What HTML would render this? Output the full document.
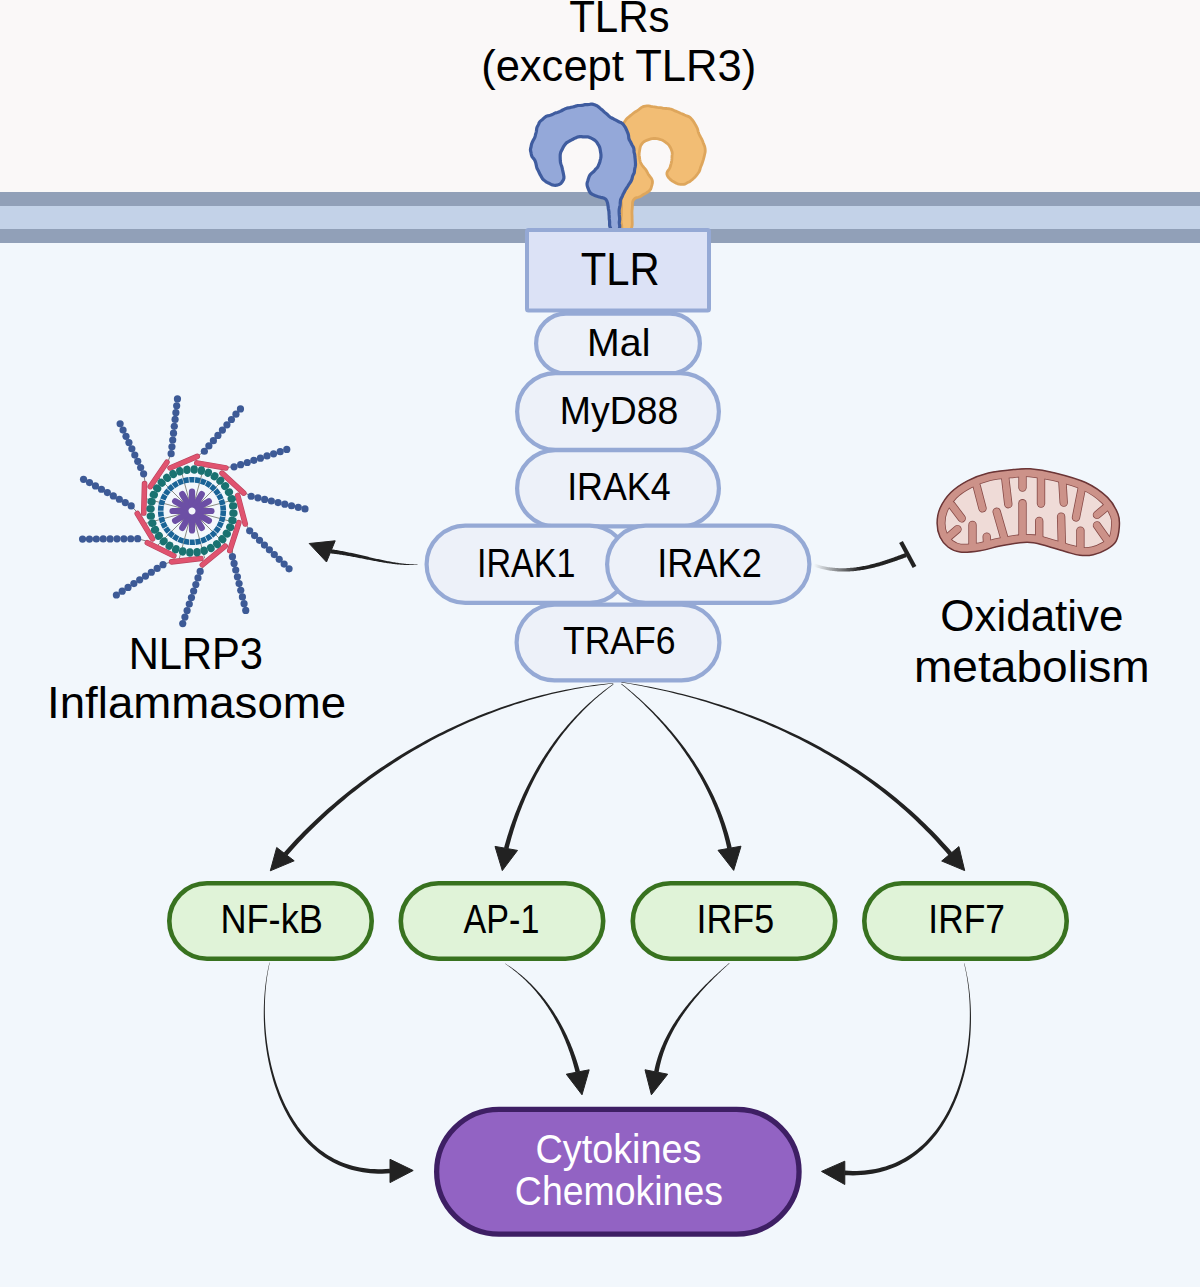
<!DOCTYPE html>
<html><head><meta charset="utf-8"><style>html,body{margin:0;padding:0;background:#f2f7fc;}svg{display:block;}</style></head><body>
<svg width="1200" height="1287" viewBox="0 0 1200 1287" style="font-family:&quot;Liberation Sans&quot;,sans-serif">
<defs><linearGradient id="inh" gradientUnits="userSpaceOnUse" x1="814" y1="565" x2="860" y2="569"><stop offset="0" stop-color="#222" stop-opacity="0"/><stop offset="1" stop-color="#222" stop-opacity="1"/></linearGradient></defs>
<rect width="1200" height="1287" fill="#f2f7fc"/>
<rect width="1200" height="192" fill="#faf8f8"/>
<rect y="192" width="1200" height="14" fill="#91a0b8"/>
<rect y="206" width="1200" height="23" fill="#c3d2e8"/>
<rect y="229" width="1200" height="14" fill="#91a0b8"/>
<path d="M624.26 122.22 L625.10 120.97 L625.95 119.72 L626.91 118.55 L628.04 117.55 L629.22 116.62 L630.38 115.67 L631.54 114.71 L632.71 113.76 L633.87 112.81 L635.09 111.94 L636.40 111.18 L637.70 110.41 L638.90 109.53 L640.04 108.55 L641.23 107.62 L642.54 106.86 L643.97 106.34 L645.46 106.06 L646.97 105.86 L648.48 105.87 L649.97 106.19 L651.43 106.55 L652.92 106.72 L654.43 106.83 L655.90 107.08 L657.37 107.38 L658.86 107.53 L660.36 107.66 L661.84 107.93 L663.31 108.28 L664.79 108.48 L666.31 108.48 L667.82 108.56 L669.33 108.75 L670.82 109.04 L672.25 109.56 L673.61 110.24 L674.96 110.92 L676.37 111.43 L677.78 111.96 L679.13 112.61 L680.52 113.19 L681.92 113.73 L683.27 114.38 L684.61 115.04 L685.99 115.60 L687.41 116.11 L688.82 116.67 L690.08 117.53 L691.16 118.59 L692.14 119.70 L693.02 120.86 L693.80 122.11 L694.60 123.36 L695.40 124.63 L696.13 125.96 L696.82 127.30 L697.43 128.67 L697.86 130.11 L698.17 131.60 L698.61 133.05 L699.22 134.42 L699.89 135.77 L700.63 137.08 L701.34 138.40 L702.02 139.74 L702.64 141.11 L703.12 142.54 L703.63 143.95 L704.25 145.31 L704.75 146.72 L705.05 148.18 L705.21 149.64 L705.26 151.10 L705.08 152.55 L704.73 154.00 L704.41 155.47 L704.09 156.93 L703.69 158.38 L703.30 159.83 L702.83 161.26 L702.35 162.68 L701.89 164.11 L701.32 165.49 L700.73 166.87 L700.27 168.30 L699.89 169.79 L699.37 171.22 L698.58 172.51 L697.69 173.74 L696.81 174.98 L695.87 176.16 L694.84 177.26 L693.76 178.31 L692.62 179.29 L691.45 180.24 L690.28 181.17 L688.97 181.92 L687.62 182.56 L686.35 183.33 L685.05 184.09 L683.59 184.46 L682.10 184.44 L680.63 184.28 L679.15 184.08 L677.68 183.77 L676.29 183.20 L674.98 182.46 L673.67 181.74 L672.36 181.00 L671.13 180.13 L670.01 179.13 L668.97 178.04 L668.03 176.87 L667.32 175.57 L666.89 174.18 L666.92 172.74 L667.53 171.40 L668.41 170.19 L669.26 168.95 L669.96 167.63 L670.43 166.22 L670.77 164.78 L671.19 163.35 L671.56 161.89 L671.79 160.41 L671.91 158.91 L671.95 157.41 L672.02 155.92 L672.19 154.42 L672.25 152.89 L671.95 151.40 L671.43 149.98 L670.87 148.58 L670.20 147.24 L669.46 145.94 L668.60 144.72 L667.49 143.72 L666.29 142.85 L665.11 141.97 L663.89 141.09 L662.60 140.33 L661.21 139.74 L659.76 139.33 L658.31 138.94 L656.82 138.66 L655.32 138.51 L653.81 138.49 L652.32 138.67 L650.84 138.98 L649.39 139.35 L647.97 139.83 L646.57 140.35 L645.19 140.94 L643.92 141.73 L642.82 142.73 L641.85 143.87 L641.02 145.12 L640.42 146.49 L640.06 147.95 L639.79 149.42 L639.58 150.90 L639.34 152.39 L639.14 153.89 L639.26 155.39 L639.48 156.88 L639.61 158.37 L639.86 159.85 L640.16 161.32 L640.61 162.76 L641.33 164.08 L642.16 165.32 L643.04 166.52 L644.01 167.66 L645.03 168.76 L645.95 169.95 L646.73 171.25 L647.43 172.59 L648.13 173.92 L648.92 175.19 L649.84 176.38 L650.78 177.57 L651.61 178.84 L652.25 180.25 L652.49 181.79 L652.37 183.33 L652.03 184.81 L651.64 186.26 L651.22 187.71 L650.64 189.12 L649.77 190.38 L648.62 191.38 L647.37 192.25 L646.14 193.10 L644.85 193.86 L643.50 194.51 L642.22 195.29 L641.01 196.18 L639.66 196.84 L638.21 197.24 L636.75 197.59 L635.34 198.13 L634.16 199.08 L633.24 200.33 L632.69 201.78 L632.49 203.30 L632.44 204.81 L632.38 206.32 L632.30 207.81 L632.14 209.31 L631.99 210.81 L631.95 212.31 L631.97 213.81 L632.06 215.31 L632.11 216.81 L632.10 218.31 L632.14 219.81 L632.20 221.31 L632.25 222.81 L632.23 224.31 L632.09 225.81 L631.77 227.28 L631.25 228.67 L630.52 229.92 L629.62 231.10 L628.50 232.14 L627.06 232.67 L625.55 232.71 L624.17 232.21 L623.11 231.24 L622.40 229.98 L621.95 228.57 L621.82 227.09 L621.78 225.60 L621.53 224.12 L621.25 222.64 L621.08 221.15 L620.96 219.65 L620.93 218.15 L621.12 216.65 L621.38 215.15 L621.43 213.65 L621.39 212.15 L621.46 210.66 L621.54 209.16 L621.59 207.66 L621.64 206.16 L621.61 204.66 L621.56 203.16 L621.44 201.65 L621.27 200.14 L621.32 198.64 L621.47 197.15 L621.55 195.65 L621.62 194.15 L621.75 192.66 L622.04 191.17 L622.38 189.70 L622.50 188.21 L622.57 186.71 L622.75 185.22 L622.94 183.74 L623.19 182.26 L623.47 180.79 L623.67 179.30 L623.81 177.80 L624.06 176.32 L624.30 174.84 L624.53 173.36 L624.84 171.89 L625.16 170.42 L625.48 168.95 L625.71 167.46 L625.83 165.96 L625.90 164.46 L625.89 162.96 L625.80 161.45 L625.84 159.96 L625.88 158.46 L625.90 156.96 L625.84 155.46 L625.73 153.96 L625.65 152.46 L625.68 150.95 L625.53 149.45 L625.13 147.99 L624.80 146.52 L624.64 145.02 L624.52 143.52 L624.20 142.05 L623.68 140.62 L623.24 139.17 L622.91 137.71 L622.62 136.24 L622.42 134.75 L622.32 133.24 L622.26 131.73 L622.25 130.23 L622.09 128.74 L621.80 127.25 L621.69 125.74 L622.04 124.25 L623.19 123.28Z" fill="#f2bd74" stroke="#dea65c" stroke-width="2.8" stroke-linejoin="round"/>
<path d="M589.02 104.53 L590.49 104.20 L591.99 104.17 L593.47 104.44 L594.91 104.86 L596.29 105.48 L597.62 106.21 L598.84 107.09 L599.91 108.17 L601.04 109.16 L602.26 110.05 L603.37 111.06 L604.43 112.12 L605.57 113.10 L606.76 114.02 L607.88 115.01 L608.92 116.10 L610.06 117.08 L611.37 117.80 L612.71 118.48 L614.02 119.23 L615.39 119.84 L616.72 120.49 L617.97 121.30 L619.35 121.92 L620.78 122.49 L622.09 123.27 L623.22 124.32 L624.12 125.58 L624.97 126.83 L625.72 128.14 L626.33 129.52 L626.95 130.90 L627.53 132.29 L628.09 133.70 L628.49 135.14 L628.66 136.65 L628.78 138.21 L629.24 139.66 L630.00 140.97 L630.73 142.29 L631.38 143.63 L632.03 144.99 L632.80 146.30 L633.54 147.63 L633.93 149.10 L633.95 150.67 L634.05 152.19 L634.47 153.62 L634.79 155.07 L634.85 156.56 L635.03 158.04 L635.22 159.53 L635.33 161.03 L635.43 162.53 L635.52 164.04 L635.46 165.54 L635.17 167.03 L634.82 168.50 L634.56 169.97 L634.46 171.49 L634.18 172.98 L633.48 174.34 L632.76 175.67 L632.37 177.13 L632.07 178.63 L631.58 180.06 L630.90 181.41 L630.13 182.71 L629.27 183.96 L628.39 185.19 L627.64 186.50 L626.86 187.78 L625.98 188.99 L625.21 190.27 L624.57 191.63 L623.83 192.95 L623.11 194.26 L622.56 195.67 L621.97 197.05 L621.21 198.35 L620.59 199.74 L620.36 201.23 L620.30 202.74 L620.18 204.24 L620.00 205.72 L619.70 207.20 L619.33 208.69 L619.13 210.18 L619.12 211.68 L619.17 213.20 L619.26 214.71 L619.43 216.21 L619.60 217.70 L619.67 219.20 L619.48 220.71 L619.27 222.21 L619.39 223.70 L619.66 225.20 L619.74 226.72 L619.46 228.23 L618.68 229.53 L617.52 230.50 L616.11 231.08 L614.59 231.13 L613.13 230.74 L611.89 229.99 L610.93 228.99 L610.31 227.75 L609.82 226.36 L609.57 224.88 L609.60 223.38 L609.64 221.88 L609.47 220.38 L609.26 218.88 L609.23 217.38 L609.19 215.89 L609.07 214.39 L609.01 212.89 L608.92 211.39 L608.60 209.92 L608.31 208.44 L608.19 206.94 L607.99 205.45 L607.72 203.97 L607.39 202.49 L606.86 201.06 L606.09 199.72 L604.97 198.63 L603.56 198.00 L602.09 197.65 L600.63 197.32 L599.18 196.93 L597.72 196.52 L596.27 196.06 L594.87 195.51 L593.51 194.85 L592.12 194.21 L590.81 193.35 L589.79 192.14 L589.07 190.78 L588.49 189.38 L587.91 187.98 L587.40 186.54 L587.09 185.04 L587.05 183.48 L587.43 181.97 L587.88 180.52 L588.28 179.07 L588.75 177.63 L589.34 176.22 L590.06 174.87 L591.07 173.71 L592.27 172.76 L593.44 171.82 L594.44 170.70 L595.37 169.50 L596.46 168.46 L597.53 167.36 L598.25 166.01 L598.76 164.57 L599.40 163.20 L599.91 161.78 L600.17 160.29 L600.55 158.83 L600.89 157.36 L600.98 155.86 L600.93 154.35 L600.72 152.87 L600.47 151.42 L600.24 149.96 L599.97 148.48 L599.54 147.04 L598.90 145.69 L598.09 144.42 L597.34 143.12 L596.54 141.83 L595.45 140.78 L594.23 139.90 L593.00 139.06 L591.68 138.34 L590.31 137.72 L588.90 137.15 L587.43 136.81 L585.90 136.81 L584.39 136.95 L582.92 136.83 L581.43 136.62 L579.92 136.61 L578.42 136.85 L576.99 137.33 L575.59 137.89 L574.21 138.48 L572.92 139.26 L571.60 139.95 L570.22 140.54 L568.94 141.31 L567.64 142.07 L566.39 142.93 L565.39 144.07 L564.49 145.26 L563.60 146.45 L562.95 147.77 L562.35 149.12 L561.60 150.41 L560.92 151.77 L560.46 153.21 L560.23 154.70 L560.18 156.21 L560.20 157.71 L560.25 159.19 L560.29 160.68 L560.44 162.17 L560.79 163.63 L561.25 165.07 L561.75 166.48 L562.14 167.94 L562.43 169.41 L562.77 170.87 L563.11 172.34 L563.40 173.80 L563.67 175.24 L563.92 176.70 L563.89 178.21 L563.47 179.67 L562.70 180.99 L561.82 182.21 L560.86 183.36 L559.63 184.22 L558.24 184.78 L556.81 185.20 L555.33 185.36 L553.84 185.22 L552.40 184.91 L551.03 184.37 L549.74 183.66 L548.41 183.00 L547.04 182.37 L545.76 181.58 L544.59 180.63 L543.42 179.68 L542.38 178.58 L541.65 177.24 L540.95 175.91 L540.17 174.63 L539.47 173.31 L538.89 171.92 L538.21 170.58 L537.47 169.26 L536.88 167.86 L536.51 166.40 L536.20 164.92 L535.87 163.46 L535.48 162.00 L534.96 160.58 L534.19 159.28 L533.20 158.13 L532.27 156.95 L531.62 155.58 L531.28 154.12 L531.03 152.67 L530.65 151.23 L530.42 149.74 L530.67 148.25 L531.07 146.80 L531.30 145.33 L531.64 143.87 L532.19 142.47 L532.83 141.11 L533.53 139.78 L534.25 138.46 L534.90 137.09 L535.31 135.63 L535.63 134.15 L536.06 132.71 L536.41 131.25 L536.57 129.74 L536.76 128.22 L537.24 126.77 L538.01 125.45 L538.64 124.07 L539.22 122.63 L540.12 121.39 L541.32 120.39 L542.51 119.44 L543.61 118.42 L544.71 117.40 L545.93 116.47 L547.33 115.87 L548.83 115.58 L550.29 115.21 L551.71 114.71 L553.08 114.09 L554.41 113.37 L555.81 112.83 L557.30 112.50 L558.73 112.04 L560.09 111.40 L561.43 110.73 L562.76 110.00 L564.11 109.33 L565.46 108.67 L566.87 108.13 L568.36 107.86 L569.85 107.62 L571.30 107.26 L572.77 106.96 L574.24 106.63 L575.67 106.10 L577.12 105.67 L578.61 105.50 L580.13 105.49 L581.65 105.45 L583.11 105.12 L584.55 104.67 L586.06 104.57 L587.58 104.70Z" fill="#94a8d9" stroke="#3f5c9f" stroke-width="3.2" stroke-linejoin="round"/>
<rect x="527" y="230" width="182" height="80.5" rx="1.5" fill="#dce2f6" stroke="#95a9d5" stroke-width="4"/>
<rect x="536.10" y="313.60" width="163.80" height="59.80" rx="29.90" fill="#edf1f9" stroke="#95a9d5" stroke-width="4.20"/>
<rect x="517.10" y="373.10" width="201.80" height="76.80" rx="38.40" fill="#edf1f9" stroke="#95a9d5" stroke-width="4.20"/>
<rect x="517.10" y="450.10" width="201.80" height="76.30" rx="38.15" fill="#edf1f9" stroke="#95a9d5" stroke-width="4.20"/>
<rect x="426.60" y="525.60" width="201.80" height="77.30" rx="38.65" fill="#edf1f9" stroke="#95a9d5" stroke-width="4.20"/>
<rect x="607.10" y="525.60" width="202.30" height="77.30" rx="38.65" fill="#edf1f9" stroke="#95a9d5" stroke-width="4.20"/>
<rect x="516.60" y="604.60" width="202.80" height="75.80" rx="37.90" fill="#edf1f9" stroke="#95a9d5" stroke-width="4.20"/>
<rect x="169.30" y="883.30" width="202.40" height="75.40" rx="37.70" fill="#e0f3d8" stroke="#38721f" stroke-width="4.60"/>
<rect x="400.80" y="883.30" width="202.40" height="75.40" rx="37.70" fill="#e0f3d8" stroke="#38721f" stroke-width="4.60"/>
<rect x="632.80" y="883.30" width="202.40" height="75.40" rx="37.70" fill="#e0f3d8" stroke="#38721f" stroke-width="4.60"/>
<rect x="864.30" y="883.30" width="202.40" height="75.40" rx="37.70" fill="#e0f3d8" stroke="#38721f" stroke-width="4.60"/>
<rect x="436.65" y="1109.35" width="362.40" height="124.70" rx="62.35" fill="#9263c3" stroke="#3e1f64" stroke-width="5.30"/>
<path d="M613.27 683.00 L608.49 683.45 L603.71 683.95 L598.93 684.51 L594.17 685.11 L589.40 685.77 L584.65 686.48 L579.89 687.24 L575.15 688.05 L570.41 688.91 L565.69 689.82 L560.97 690.78 L556.26 691.79 L551.55 692.85 L546.86 693.95 L542.18 695.11 L537.51 696.31 L532.85 697.56 L528.20 698.85 L523.56 700.20 L518.94 701.59 L514.32 703.02 L509.73 704.50 L505.14 706.03 L500.57 707.60 L496.01 709.22 L491.47 710.88 L486.94 712.58 L482.43 714.33 L477.94 716.12 L473.46 717.95 L469.00 719.83 L464.56 721.74 L460.14 723.70 L455.73 725.70 L451.34 727.74 L446.98 729.83 L442.63 731.95 L438.30 734.11 L433.99 736.31 L429.71 738.55 L425.44 740.83 L421.20 743.15 L416.98 745.50 L412.78 747.90 L408.61 750.33 L404.46 752.80 L400.34 755.30 L396.24 757.84 L392.16 760.42 L388.11 763.03 L384.08 765.68 L380.09 768.36 L376.12 771.07 L372.17 773.82 L368.26 776.61 L364.37 779.43 L360.51 782.28 L356.68 785.16 L352.88 788.08 L349.11 791.02 L345.37 794.00 L341.66 797.01 L337.98 800.06 L334.33 803.13 L330.71 806.23 L327.13 809.36 L323.58 812.52 L320.07 815.71 L316.58 818.93 L313.14 822.18 L309.72 825.46 L306.35 828.76 L303.00 832.09 L299.70 835.45 L296.43 838.84 L293.19 842.25 L290.00 845.68 L286.84 849.15 L283.73 852.63 L287.17 855.67 L290.23 852.18 L293.32 848.71 L296.45 845.27 L299.62 841.86 L302.82 838.47 L306.07 835.11 L309.34 831.77 L312.66 828.46 L316.01 825.17 L319.39 821.91 L322.81 818.68 L326.27 815.48 L329.76 812.30 L333.28 809.16 L336.83 806.04 L340.42 802.95 L344.04 799.89 L347.69 796.87 L351.37 793.87 L355.09 790.90 L358.83 787.96 L362.61 785.06 L366.41 782.19 L370.24 779.35 L374.11 776.54 L378.00 773.77 L381.91 771.02 L385.86 768.32 L389.83 765.64 L393.83 763.00 L397.86 760.40 L401.91 757.83 L405.98 755.30 L410.08 752.80 L414.21 750.34 L418.36 747.92 L422.53 745.53 L426.73 743.18 L430.95 740.87 L435.19 738.59 L439.45 736.36 L443.73 734.16 L448.04 732.00 L452.37 729.89 L456.71 727.81 L461.08 725.77 L465.46 723.77 L469.86 721.82 L474.29 719.90 L478.72 718.03 L483.18 716.20 L487.66 714.42 L492.15 712.67 L496.65 710.97 L501.18 709.31 L505.71 707.70 L510.27 706.13 L514.83 704.61 L519.42 703.13 L524.01 701.69 L528.62 700.31 L533.24 698.97 L537.87 697.67 L542.52 696.42 L547.17 695.22 L551.84 694.07 L556.52 692.97 L561.21 691.91 L565.91 690.90 L570.61 689.94 L575.33 689.04 L580.06 688.18 L584.79 687.37 L589.53 686.61 L594.28 685.91 L599.03 685.25 L603.79 684.65 L608.56 684.10 L613.33 683.60Z" fill="#222"/>
<path d="M270.3 870.8 L276.7 847.5 L294.2 860.8 Z" fill="#222" stroke="#222" stroke-width="1" stroke-linejoin="round"/>
<path d="M613.12 683.96 L611.03 685.45 L608.95 686.96 L606.89 688.49 L604.85 690.04 L602.83 691.60 L600.83 693.19 L598.84 694.80 L596.88 696.43 L594.93 698.07 L593.00 699.73 L591.09 701.41 L589.19 703.11 L587.32 704.83 L585.46 706.56 L583.63 708.32 L581.81 710.09 L580.01 711.87 L578.22 713.68 L576.46 715.50 L574.71 717.33 L572.99 719.19 L571.28 721.05 L569.59 722.94 L567.91 724.84 L566.26 726.76 L564.62 728.69 L563.01 730.63 L561.41 732.60 L559.83 734.57 L558.27 736.56 L556.72 738.57 L555.20 740.59 L553.69 742.62 L552.20 744.67 L550.73 746.73 L549.28 748.80 L547.84 750.89 L546.43 752.99 L545.03 755.10 L543.65 757.23 L542.29 759.36 L540.95 761.51 L539.62 763.68 L538.32 765.85 L537.03 768.03 L535.76 770.23 L534.51 772.44 L533.27 774.66 L532.06 776.89 L530.86 779.13 L529.68 781.38 L528.52 783.64 L527.38 785.91 L526.25 788.19 L525.15 790.48 L524.06 792.78 L522.99 795.09 L521.94 797.41 L520.91 799.73 L519.89 802.07 L518.89 804.41 L517.91 806.77 L516.95 809.13 L516.01 811.49 L515.08 813.87 L514.18 816.25 L513.29 818.64 L512.42 821.04 L511.56 823.45 L510.73 825.86 L509.91 828.27 L509.11 830.70 L508.33 833.13 L507.57 835.56 L506.82 838.00 L506.10 840.45 L505.39 842.90 L504.70 845.36 L504.03 847.82 L508.47 848.98 L509.09 846.53 L509.73 844.09 L510.38 841.66 L511.05 839.23 L511.73 836.81 L512.44 834.39 L513.16 831.97 L513.90 829.56 L514.66 827.16 L515.44 824.76 L516.23 822.37 L517.05 819.98 L517.88 817.60 L518.73 815.23 L519.60 812.87 L520.48 810.51 L521.38 808.16 L522.31 805.81 L523.25 803.47 L524.20 801.15 L525.18 798.82 L526.17 796.51 L527.19 794.21 L528.22 791.91 L529.27 789.62 L530.33 787.34 L531.42 785.08 L532.52 782.82 L533.64 780.56 L534.78 778.32 L535.94 776.09 L537.12 773.87 L538.31 771.66 L539.53 769.46 L540.76 767.27 L542.01 765.09 L543.28 762.93 L544.57 760.77 L545.87 758.62 L547.20 756.49 L548.54 754.37 L549.90 752.26 L551.28 750.16 L552.68 748.08 L554.10 746.01 L555.53 743.95 L556.99 741.90 L558.46 739.87 L559.95 737.85 L561.46 735.84 L562.99 733.85 L564.54 731.87 L566.11 729.90 L567.69 727.95 L569.29 726.02 L570.92 724.10 L572.56 722.19 L574.22 720.30 L575.90 718.43 L577.60 716.57 L579.31 714.72 L581.05 712.89 L582.80 711.08 L584.58 709.29 L586.37 707.51 L588.18 705.74 L590.01 704.00 L591.86 702.27 L593.73 700.56 L595.62 698.87 L597.53 697.19 L599.45 695.53 L601.40 693.89 L603.36 692.27 L605.35 690.67 L607.35 689.08 L609.37 687.52 L611.41 685.97 L613.48 684.44Z" fill="#222"/>
<path d="M502.3 870.6 L495.0 846.4 L517.5 850.4 Z" fill="#222" stroke="#222" stroke-width="1" stroke-linejoin="round"/>
<path d="M621.21 684.13 L623.16 685.74 L625.10 687.37 L627.03 689.00 L628.94 690.65 L630.85 692.32 L632.75 694.00 L634.63 695.69 L636.50 697.40 L638.36 699.12 L640.21 700.86 L642.05 702.60 L643.87 704.37 L645.68 706.14 L647.48 707.93 L649.27 709.73 L651.04 711.55 L652.80 713.37 L654.55 715.22 L656.28 717.07 L658.00 718.94 L659.70 720.82 L661.39 722.71 L663.07 724.61 L664.73 726.53 L666.37 728.46 L668.00 730.40 L669.62 732.36 L671.22 734.32 L672.80 736.30 L674.37 738.29 L675.92 740.30 L677.45 742.31 L678.97 744.34 L680.47 746.37 L681.95 748.42 L683.42 750.48 L684.87 752.56 L686.30 754.64 L687.71 756.73 L689.11 758.84 L690.49 760.96 L691.85 763.09 L693.19 765.22 L694.51 767.37 L695.81 769.53 L697.09 771.71 L698.35 773.89 L699.60 776.08 L700.82 778.28 L702.02 780.49 L703.21 782.72 L704.37 784.95 L705.51 787.19 L706.63 789.44 L707.73 791.71 L708.81 793.98 L709.87 796.26 L710.90 798.55 L711.91 800.85 L712.90 803.16 L713.87 805.48 L714.82 807.81 L715.74 810.15 L716.64 812.50 L717.52 814.86 L718.37 817.22 L719.20 819.60 L720.01 821.98 L720.79 824.37 L721.55 826.77 L722.28 829.18 L722.99 831.60 L723.68 834.02 L724.34 836.46 L724.97 838.90 L725.58 841.35 L726.16 843.80 L726.72 846.27 L727.26 848.76 L731.74 847.74 L731.15 845.25 L730.54 842.74 L729.89 840.25 L729.22 837.77 L728.53 835.30 L727.81 832.83 L727.06 830.38 L726.29 827.94 L725.49 825.50 L724.67 823.08 L723.83 820.66 L722.96 818.26 L722.07 815.86 L721.16 813.48 L720.22 811.11 L719.26 808.74 L718.27 806.39 L717.27 804.05 L716.24 801.71 L715.19 799.39 L714.12 797.08 L713.02 794.78 L711.90 792.49 L710.77 790.21 L709.61 787.94 L708.43 785.69 L707.23 783.44 L706.01 781.21 L704.77 778.98 L703.51 776.77 L702.22 774.57 L700.92 772.38 L699.60 770.20 L698.27 768.03 L696.91 765.88 L695.53 763.74 L694.14 761.61 L692.72 759.49 L691.29 757.38 L689.84 755.28 L688.37 753.20 L686.89 751.13 L685.39 749.07 L683.87 747.02 L682.33 744.99 L680.78 742.96 L679.21 740.95 L677.63 738.96 L676.02 736.97 L674.41 735.00 L672.77 733.04 L671.13 731.10 L669.46 729.16 L667.79 727.24 L666.09 725.33 L664.39 723.44 L662.66 721.56 L660.93 719.69 L659.18 717.84 L657.41 716.00 L655.64 714.17 L653.85 712.36 L652.04 710.56 L650.23 708.77 L648.40 707.00 L646.56 705.24 L644.71 703.49 L642.84 701.76 L640.96 700.04 L639.07 698.34 L637.17 696.65 L635.26 694.98 L633.34 693.32 L631.41 691.67 L629.46 690.04 L627.51 688.43 L625.55 686.82 L623.57 685.24 L621.59 683.67Z" fill="#222"/>
<path d="M733.7 870.4 L718.0 850.3 L741.0 846.2 Z" fill="#222" stroke="#222" stroke-width="1" stroke-linejoin="round"/>
<path d="M621.35 682.50 L626.08 683.28 L630.80 684.10 L635.51 684.95 L640.23 685.83 L644.93 686.75 L649.63 687.70 L654.32 688.69 L659.01 689.71 L663.69 690.76 L668.36 691.85 L673.02 692.98 L677.67 694.14 L682.32 695.33 L686.95 696.56 L691.58 697.82 L696.20 699.12 L700.80 700.46 L705.40 701.82 L709.98 703.23 L714.55 704.67 L719.11 706.14 L723.66 707.65 L728.19 709.20 L732.71 710.78 L737.22 712.40 L741.71 714.05 L746.18 715.74 L750.65 717.47 L755.09 719.23 L759.52 721.03 L763.94 722.86 L768.34 724.73 L772.72 726.64 L777.08 728.58 L781.42 730.56 L785.75 732.58 L790.06 734.63 L794.34 736.73 L798.61 738.85 L802.86 741.02 L807.09 743.22 L811.30 745.46 L815.48 747.74 L819.65 750.05 L823.79 752.40 L827.91 754.79 L832.01 757.22 L836.08 759.68 L840.13 762.19 L844.15 764.73 L848.15 767.31 L852.13 769.92 L856.08 772.58 L860.01 775.27 L863.90 778.00 L867.78 780.77 L871.62 783.58 L875.44 786.43 L879.23 789.32 L882.99 792.24 L886.72 795.20 L890.42 798.21 L894.10 801.25 L897.74 804.33 L901.36 807.45 L904.94 810.61 L908.49 813.81 L912.01 817.05 L915.50 820.32 L918.96 823.64 L922.38 827.00 L925.78 830.39 L929.13 833.83 L932.46 837.31 L935.75 840.83 L939.00 844.38 L942.22 847.98 L945.40 851.62 L948.56 855.30 L952.04 852.30 L948.83 848.62 L945.57 844.98 L942.28 841.38 L938.96 837.82 L935.60 834.31 L932.21 830.83 L928.78 827.40 L925.32 824.00 L921.83 820.65 L918.31 817.34 L914.75 814.07 L911.16 810.84 L907.55 807.65 L903.90 804.50 L900.22 801.40 L896.52 798.33 L892.78 795.30 L889.01 792.32 L885.22 789.37 L881.40 786.46 L877.55 783.59 L873.68 780.77 L869.77 777.98 L865.84 775.23 L861.89 772.52 L857.91 769.85 L853.91 767.22 L849.88 764.63 L845.82 762.08 L841.75 759.57 L837.65 757.09 L833.52 754.66 L829.38 752.26 L825.21 749.90 L821.02 747.58 L816.81 745.30 L812.58 743.05 L808.32 740.85 L804.05 738.68 L799.76 736.55 L795.45 734.46 L791.12 732.40 L786.77 730.38 L782.40 728.40 L778.02 726.46 L773.62 724.56 L769.20 722.69 L764.77 720.86 L760.32 719.06 L755.85 717.30 L751.37 715.58 L746.88 713.90 L742.37 712.25 L737.84 710.64 L733.31 709.07 L728.76 707.53 L724.19 706.03 L719.62 704.56 L715.03 703.13 L710.44 701.73 L705.83 700.37 L701.21 699.05 L696.58 697.76 L691.94 696.51 L687.29 695.29 L682.63 694.11 L677.96 692.96 L673.29 691.85 L668.61 690.78 L663.92 689.73 L659.22 688.73 L654.52 687.75 L649.81 686.81 L645.09 685.91 L640.37 685.04 L635.65 684.21 L630.92 683.40 L626.18 682.64 L621.45 681.90Z" fill="#222"/>
<path d="M964.7 870.6 L941.7 861.0 L958.9 846.6 Z" fill="#222" stroke="#222" stroke-width="1" stroke-linejoin="round"/>
<path d="M269.45 962.47 L268.72 965.64 L268.04 968.86 L267.40 972.13 L266.81 975.44 L266.28 978.79 L265.79 982.18 L265.36 985.61 L264.98 989.07 L264.65 992.56 L264.37 996.08 L264.14 999.63 L263.97 1003.20 L263.84 1006.80 L263.77 1010.41 L263.76 1014.04 L263.80 1017.69 L263.89 1021.35 L264.04 1025.02 L264.24 1028.69 L264.49 1032.38 L264.81 1036.06 L265.17 1039.75 L265.60 1043.43 L266.08 1047.11 L266.61 1050.79 L267.21 1054.45 L267.86 1058.10 L268.57 1061.74 L269.34 1065.37 L270.16 1068.97 L271.04 1072.56 L271.99 1076.12 L272.99 1079.66 L274.05 1083.17 L275.18 1086.65 L276.36 1090.09 L277.60 1093.51 L278.91 1096.88 L280.28 1100.22 L281.71 1103.51 L283.20 1106.76 L284.75 1109.96 L286.37 1113.12 L288.06 1116.22 L289.80 1119.27 L291.61 1122.26 L293.49 1125.20 L295.43 1128.07 L297.44 1130.88 L299.51 1133.63 L301.65 1136.30 L303.86 1138.91 L306.14 1141.44 L308.48 1143.90 L310.90 1146.28 L313.38 1148.58 L315.93 1150.79 L318.55 1152.92 L321.25 1154.97 L324.01 1156.92 L326.84 1158.77 L329.75 1160.53 L332.72 1162.20 L335.77 1163.76 L338.89 1165.21 L342.09 1166.56 L345.35 1167.80 L348.69 1168.93 L352.10 1169.95 L355.58 1170.84 L359.14 1171.62 L362.77 1172.28 L366.47 1172.81 L370.24 1173.21 L374.09 1173.49 L378.01 1173.63 L382.00 1173.64 L386.06 1173.51 L390.16 1173.24 L389.84 1168.66 L385.81 1168.97 L381.90 1169.15 L378.06 1169.19 L374.29 1169.11 L370.59 1168.90 L366.97 1168.56 L363.41 1168.11 L359.92 1167.53 L356.50 1166.84 L353.15 1166.03 L349.87 1165.11 L346.65 1164.08 L343.51 1162.94 L340.42 1161.69 L337.41 1160.34 L334.46 1158.89 L331.57 1157.34 L328.75 1155.69 L325.99 1153.95 L323.30 1152.11 L320.67 1150.19 L318.10 1148.17 L315.59 1146.07 L313.15 1143.88 L310.77 1141.61 L308.46 1139.26 L306.20 1136.83 L304.01 1134.33 L301.88 1131.75 L299.82 1129.11 L297.81 1126.39 L295.87 1123.61 L293.98 1120.76 L292.16 1117.86 L290.40 1114.89 L288.70 1111.87 L287.06 1108.79 L285.48 1105.66 L283.96 1102.48 L282.50 1099.26 L281.10 1095.99 L279.76 1092.68 L278.48 1089.32 L277.26 1085.93 L276.10 1082.51 L275.00 1079.05 L273.95 1075.57 L272.97 1072.05 L272.04 1068.51 L271.17 1064.95 L270.35 1061.37 L269.60 1057.77 L268.90 1054.15 L268.25 1050.52 L267.67 1046.88 L267.14 1043.23 L266.66 1039.58 L266.24 1035.92 L265.88 1032.26 L265.57 1028.60 L265.31 1024.95 L265.11 1021.30 L264.97 1017.66 L264.88 1014.03 L264.84 1010.41 L264.85 1006.81 L264.92 1003.23 L265.04 999.67 L265.21 996.13 L265.43 992.62 L265.71 989.14 L266.04 985.68 L266.42 982.26 L266.85 978.87 L267.33 975.52 L267.86 972.21 L268.44 968.94 L269.07 965.71 L269.75 962.53Z" fill="#222"/>
<path d="M413.2 1170.5 L390.0 1159.3 L390.0 1182.6 Z" fill="#222" stroke="#222" stroke-width="1" stroke-linejoin="round"/>
<path d="M505.09 963.87 L506.51 964.83 L507.91 965.81 L509.29 966.81 L510.66 967.82 L512.02 968.84 L513.37 969.88 L514.70 970.93 L516.01 972.00 L517.31 973.08 L518.60 974.18 L519.88 975.28 L521.14 976.41 L522.39 977.54 L523.62 978.69 L524.84 979.85 L526.04 981.02 L527.24 982.20 L528.42 983.40 L529.58 984.61 L530.73 985.83 L531.87 987.06 L532.99 988.31 L534.11 989.56 L535.20 990.83 L536.29 992.10 L537.36 993.39 L538.42 994.69 L539.46 996.00 L540.49 997.32 L541.51 998.65 L542.51 999.99 L543.50 1001.34 L544.48 1002.70 L545.44 1004.07 L546.39 1005.44 L547.33 1006.83 L548.26 1008.23 L549.17 1009.63 L550.07 1011.04 L550.95 1012.46 L551.82 1013.89 L552.68 1015.33 L553.53 1016.78 L554.36 1018.23 L555.18 1019.69 L555.99 1021.16 L556.79 1022.63 L557.57 1024.11 L558.34 1025.60 L559.09 1027.10 L559.84 1028.60 L560.57 1030.11 L561.28 1031.62 L561.99 1033.14 L562.68 1034.67 L563.36 1036.20 L564.03 1037.74 L564.68 1039.28 L565.32 1040.83 L565.95 1042.38 L566.57 1043.94 L567.17 1045.50 L567.76 1047.06 L568.34 1048.63 L568.90 1050.21 L569.46 1051.79 L570.00 1053.37 L570.53 1054.95 L571.04 1056.54 L571.55 1058.13 L572.04 1059.73 L572.52 1061.32 L572.98 1062.92 L573.44 1064.53 L573.88 1066.13 L574.31 1067.74 L574.72 1069.35 L575.13 1070.96 L575.52 1072.58 L579.98 1071.42 L579.53 1069.80 L579.06 1068.17 L578.58 1066.54 L578.09 1064.92 L577.59 1063.30 L577.08 1061.68 L576.55 1060.06 L576.01 1058.45 L575.46 1056.84 L574.90 1055.24 L574.32 1053.64 L573.73 1052.04 L573.13 1050.45 L572.52 1048.86 L571.89 1047.28 L571.25 1045.70 L570.60 1044.12 L569.94 1042.56 L569.26 1040.99 L568.57 1039.43 L567.87 1037.88 L567.16 1036.33 L566.43 1034.79 L565.69 1033.26 L564.94 1031.73 L564.17 1030.21 L563.40 1028.70 L562.61 1027.19 L561.81 1025.69 L560.99 1024.19 L560.16 1022.71 L559.32 1021.23 L558.47 1019.76 L557.60 1018.29 L556.72 1016.84 L555.83 1015.39 L554.93 1013.95 L554.01 1012.52 L553.08 1011.10 L552.14 1009.69 L551.18 1008.29 L550.21 1006.90 L549.23 1005.51 L548.24 1004.14 L547.23 1002.77 L546.21 1001.42 L545.18 1000.08 L544.14 998.74 L543.08 997.42 L542.01 996.11 L540.92 994.81 L539.83 993.52 L538.72 992.24 L537.59 990.97 L536.46 989.72 L535.31 988.47 L534.15 987.24 L532.97 986.02 L531.79 984.81 L530.59 983.62 L529.37 982.44 L528.15 981.27 L526.91 980.11 L525.65 978.97 L524.39 977.84 L523.11 976.72 L521.82 975.62 L520.52 974.53 L519.20 973.46 L517.87 972.40 L516.53 971.36 L515.17 970.32 L513.80 969.31 L512.42 968.31 L511.02 967.32 L509.61 966.35 L508.19 965.40 L506.76 964.46 L505.31 963.53Z" fill="#222"/>
<path d="M582.0 1094.8 L566.3 1074.2 L589.2 1069.8 Z" fill="#222" stroke="#222" stroke-width="1" stroke-linejoin="round"/>
<path d="M729.27 963.05 L728.01 964.11 L726.75 965.19 L725.49 966.27 L724.24 967.35 L722.98 968.45 L721.73 969.55 L720.47 970.66 L719.22 971.78 L717.97 972.91 L716.73 974.04 L715.49 975.18 L714.25 976.33 L713.01 977.49 L711.78 978.65 L710.55 979.82 L709.33 981.00 L708.11 982.19 L706.90 983.38 L705.69 984.59 L704.49 985.80 L703.29 987.01 L702.10 988.24 L700.92 989.48 L699.74 990.72 L698.58 991.97 L697.41 993.22 L696.26 994.49 L695.11 995.76 L693.97 997.04 L692.84 998.33 L691.72 999.63 L690.61 1000.94 L689.51 1002.25 L688.41 1003.57 L687.33 1004.90 L686.26 1006.24 L685.20 1007.58 L684.14 1008.93 L683.10 1010.30 L682.08 1011.66 L681.06 1013.04 L680.05 1014.43 L679.06 1015.82 L678.08 1017.22 L677.11 1018.63 L676.16 1020.05 L675.22 1021.48 L674.29 1022.91 L673.38 1024.36 L672.48 1025.81 L671.60 1027.27 L670.73 1028.73 L669.88 1030.21 L669.04 1031.69 L668.22 1033.19 L667.41 1034.69 L666.63 1036.20 L665.85 1037.72 L665.10 1039.24 L664.36 1040.78 L663.64 1042.32 L662.94 1043.88 L662.26 1045.44 L661.59 1047.01 L660.95 1048.59 L660.32 1050.17 L659.72 1051.77 L659.13 1053.37 L658.56 1054.98 L658.02 1056.61 L657.49 1058.24 L656.99 1059.88 L656.51 1061.52 L656.05 1063.18 L655.61 1064.84 L655.19 1066.52 L654.80 1068.20 L654.43 1069.89 L654.09 1071.58 L658.61 1072.42 L658.90 1070.76 L659.20 1069.12 L659.53 1067.49 L659.88 1065.87 L660.25 1064.25 L660.64 1062.63 L661.06 1061.03 L661.49 1059.43 L661.95 1057.83 L662.43 1056.25 L662.93 1054.67 L663.45 1053.09 L663.99 1051.53 L664.55 1049.97 L665.13 1048.41 L665.72 1046.87 L666.34 1045.33 L666.98 1043.79 L667.63 1042.26 L668.30 1040.74 L668.99 1039.23 L669.70 1037.72 L670.42 1036.22 L671.16 1034.73 L671.92 1033.24 L672.70 1031.76 L673.49 1030.29 L674.29 1028.82 L675.12 1027.36 L675.95 1025.91 L676.81 1024.46 L677.67 1023.02 L678.55 1021.59 L679.45 1020.17 L680.36 1018.75 L681.28 1017.34 L682.22 1015.93 L683.16 1014.53 L684.13 1013.14 L685.10 1011.76 L686.08 1010.38 L687.08 1009.01 L688.09 1007.65 L689.11 1006.29 L690.14 1004.94 L691.18 1003.60 L692.23 1002.27 L693.30 1000.94 L694.37 999.62 L695.45 998.31 L696.54 997.00 L697.64 995.70 L698.74 994.41 L699.86 993.12 L700.98 991.85 L702.11 990.58 L703.25 989.31 L704.40 988.06 L705.55 986.81 L706.71 985.57 L707.87 984.33 L709.04 983.10 L710.22 981.88 L711.40 980.67 L712.58 979.47 L713.77 978.27 L714.97 977.08 L716.17 975.89 L717.37 974.72 L718.57 973.55 L719.78 972.39 L721.00 971.23 L722.21 970.08 L723.43 968.94 L724.64 967.81 L725.86 966.68 L727.09 965.57 L728.31 964.45 L729.53 963.35Z" fill="#222"/>
<path d="M651.4 1094.8 L645.0 1069.8 L667.7 1074.2 Z" fill="#222" stroke="#222" stroke-width="1" stroke-linejoin="round"/>
<path d="M964.05 963.44 L964.80 966.66 L965.50 969.92 L966.15 973.23 L966.75 976.58 L967.29 979.96 L967.78 983.38 L968.22 986.83 L968.61 990.31 L968.95 993.81 L969.23 997.35 L969.46 1000.90 L969.64 1004.48 L969.76 1008.07 L969.83 1011.68 L969.84 1015.30 L969.80 1018.94 L969.71 1022.58 L969.55 1026.23 L969.35 1029.89 L969.08 1033.55 L968.77 1037.21 L968.39 1040.86 L967.96 1044.51 L967.47 1048.16 L966.92 1051.79 L966.31 1055.41 L965.65 1059.02 L964.93 1062.61 L964.15 1066.19 L963.31 1069.74 L962.41 1073.27 L961.45 1076.77 L960.43 1080.24 L959.36 1083.69 L958.22 1087.10 L957.02 1090.48 L955.76 1093.82 L954.44 1097.12 L953.06 1100.38 L951.62 1103.59 L950.12 1106.76 L948.55 1109.88 L946.92 1112.94 L945.23 1115.96 L943.48 1118.92 L941.66 1121.82 L939.78 1124.65 L937.84 1127.43 L935.84 1130.14 L933.77 1132.79 L931.64 1135.36 L929.44 1137.86 L927.18 1140.29 L924.86 1142.65 L922.47 1144.92 L920.02 1147.12 L917.50 1149.23 L914.92 1151.26 L912.27 1153.20 L909.55 1155.05 L906.77 1156.81 L903.93 1158.48 L901.02 1160.05 L898.04 1161.53 L894.99 1162.90 L891.87 1164.18 L888.69 1165.35 L885.44 1166.41 L882.12 1167.37 L878.72 1168.22 L875.26 1168.96 L871.73 1169.58 L868.12 1170.09 L864.45 1170.48 L860.70 1170.74 L856.87 1170.89 L852.98 1170.90 L849.00 1170.80 L844.92 1170.55 L844.68 1175.15 L848.84 1175.34 L852.95 1175.40 L857.00 1175.32 L860.97 1175.12 L864.86 1174.78 L868.68 1174.33 L872.42 1173.74 L876.09 1173.04 L879.68 1172.22 L883.20 1171.28 L886.65 1170.23 L890.02 1169.07 L893.31 1167.79 L896.53 1166.41 L899.68 1164.93 L902.76 1163.35 L905.76 1161.66 L908.68 1159.88 L911.54 1158.01 L914.32 1156.05 L917.03 1153.99 L919.67 1151.85 L922.23 1149.63 L924.72 1147.32 L927.15 1144.94 L929.50 1142.48 L931.78 1139.94 L934.00 1137.34 L936.14 1134.66 L938.21 1131.92 L940.22 1129.11 L942.16 1126.24 L944.03 1123.31 L945.84 1120.33 L947.58 1117.29 L949.25 1114.19 L950.86 1111.05 L952.40 1107.85 L953.88 1104.61 L955.29 1101.33 L956.64 1098.00 L957.93 1094.64 L959.15 1091.24 L960.31 1087.80 L961.41 1084.34 L962.45 1080.84 L963.42 1077.31 L964.34 1073.76 L965.19 1070.18 L965.98 1066.59 L966.72 1062.97 L967.39 1059.34 L968.00 1055.70 L968.56 1052.04 L969.06 1048.37 L969.50 1044.70 L969.88 1041.01 L970.20 1037.33 L970.47 1033.65 L970.68 1029.97 L970.83 1026.29 L970.93 1022.62 L970.97 1018.95 L970.96 1015.30 L970.89 1011.66 L970.77 1008.04 L970.59 1004.43 L970.36 1000.84 L970.07 997.28 L969.74 993.74 L969.34 990.23 L968.90 986.74 L968.40 983.29 L967.86 979.87 L967.26 976.49 L966.60 973.14 L965.90 969.84 L965.15 966.58 L964.35 963.36Z" fill="#222"/>
<path d="M821.5 1171.4 L844.8 1161.2 L844.8 1184.5 Z" fill="#222" stroke="#222" stroke-width="1" stroke-linejoin="round"/>
<path d="M417.50 564.50 L416.38 564.46 L415.26 564.43 L414.15 564.39 L413.04 564.34 L411.93 564.28 L410.82 564.22 L409.71 564.15 L408.61 564.07 L407.50 563.98 L406.40 563.88 L405.30 563.77 L404.20 563.66 L403.10 563.54 L402.00 563.41 L400.91 563.28 L399.81 563.13 L398.72 562.98 L397.62 562.83 L396.53 562.66 L395.44 562.50 L394.35 562.32 L393.26 562.14 L392.17 561.95 L391.08 561.76 L389.99 561.57 L388.91 561.36 L387.82 561.16 L386.73 560.95 L385.65 560.73 L384.56 560.51 L383.48 560.29 L382.39 560.06 L381.31 559.83 L380.22 559.60 L379.14 559.36 L378.06 559.12 L376.97 558.88 L375.89 558.63 L374.81 558.38 L373.73 558.14 L372.64 557.89 L371.56 557.63 L370.48 557.38 L369.39 557.13 L368.31 556.87 L367.23 556.62 L366.14 556.36 L365.06 556.10 L363.97 555.85 L362.89 555.59 L361.80 555.34 L360.72 555.08 L359.63 554.83 L358.54 554.57 L357.46 554.32 L356.37 554.07 L355.28 553.83 L354.19 553.58 L353.10 553.34 L352.01 553.10 L350.92 552.86 L349.83 552.63 L348.73 552.39 L347.64 552.17 L346.54 551.94 L345.45 551.72 L344.35 551.50 L343.25 551.29 L342.15 551.08 L341.05 550.88 L339.95 550.68 L338.85 550.49 L337.74 550.30 L336.64 550.12 L335.53 549.95 L334.42 549.78 L333.31 549.62 L332.20 549.46 L331.09 549.31 L330.61 553.49 L331.71 553.59 L332.80 553.71 L333.89 553.83 L334.98 553.96 L336.07 554.09 L337.16 554.23 L338.25 554.37 L339.34 554.52 L340.43 554.68 L341.52 554.84 L342.61 555.01 L343.70 555.18 L344.79 555.35 L345.88 555.53 L346.97 555.71 L348.06 555.90 L349.15 556.09 L350.24 556.28 L351.33 556.48 L352.42 556.68 L353.51 556.88 L354.60 557.08 L355.70 557.29 L356.79 557.50 L357.88 557.71 L358.97 557.92 L360.06 558.13 L361.16 558.34 L362.25 558.56 L363.34 558.77 L364.43 558.99 L365.53 559.20 L366.62 559.42 L367.71 559.63 L368.81 559.84 L369.90 560.06 L371.00 560.27 L372.09 560.48 L373.19 560.68 L374.29 560.89 L375.38 561.10 L376.48 561.30 L377.58 561.50 L378.68 561.69 L379.78 561.89 L380.87 562.08 L381.97 562.26 L383.07 562.45 L384.18 562.63 L385.28 562.80 L386.38 562.97 L387.48 563.14 L388.58 563.30 L389.69 563.45 L390.79 563.60 L391.90 563.75 L393.00 563.89 L394.11 564.02 L395.22 564.15 L396.32 564.27 L397.43 564.38 L398.54 564.49 L399.65 564.58 L400.76 564.67 L401.87 564.76 L402.99 564.83 L404.10 564.90 L405.21 564.96 L406.33 565.00 L407.44 565.04 L408.56 565.07 L409.67 565.09 L410.79 565.10 L411.91 565.10 L413.03 565.09 L414.14 565.07 L415.26 565.03 L416.38 564.98 L417.50 564.90Z" fill="#222"/>
<path d="M309.2 543.5 L335.2 540.8 L326.5 562.0 Z" fill="#222" stroke="#222" stroke-width="1" stroke-linejoin="round"/>
<path d="M813.50 566.41 L814.69 566.84 L815.89 567.25 L817.09 567.64 L818.29 568.01 L819.49 568.36 L820.70 568.69 L821.90 569.00 L823.11 569.29 L824.31 569.57 L825.52 569.82 L826.73 570.06 L827.94 570.28 L829.14 570.48 L830.35 570.66 L831.56 570.83 L832.77 570.98 L833.98 571.11 L835.19 571.22 L836.40 571.32 L837.61 571.40 L838.82 571.47 L840.02 571.52 L841.23 571.56 L842.44 571.58 L843.65 571.59 L844.86 571.58 L846.06 571.56 L847.27 571.52 L848.48 571.47 L849.68 571.41 L850.88 571.33 L852.09 571.24 L853.29 571.14 L854.49 571.02 L855.69 570.90 L856.89 570.76 L858.09 570.61 L859.29 570.44 L860.49 570.27 L861.68 570.08 L862.87 569.89 L864.07 569.68 L865.26 569.47 L866.45 569.24 L867.64 569.00 L868.82 568.76 L870.01 568.50 L871.19 568.24 L872.37 567.97 L873.55 567.69 L874.73 567.40 L875.90 567.10 L877.08 566.79 L878.25 566.48 L879.42 566.16 L880.59 565.83 L881.75 565.50 L882.92 565.16 L884.08 564.81 L885.24 564.46 L886.40 564.10 L887.55 563.74 L888.70 563.37 L889.85 563.00 L891.00 562.62 L892.14 562.24 L893.28 561.85 L894.42 561.46 L895.56 561.06 L896.69 560.66 L897.82 560.26 L898.95 559.86 L900.08 559.45 L901.20 559.04 L902.32 558.63 L903.43 558.21 L904.54 557.80 L905.65 557.38 L906.76 556.96 L905.24 553.04 L904.15 553.47 L903.05 553.90 L901.96 554.33 L900.85 554.75 L899.75 555.18 L898.65 555.60 L897.54 556.01 L896.43 556.43 L895.31 556.84 L894.20 557.25 L893.08 557.65 L891.96 558.05 L890.84 558.45 L889.72 558.84 L888.59 559.23 L887.46 559.61 L886.33 559.99 L885.20 560.36 L884.07 560.73 L882.93 561.09 L881.80 561.44 L880.66 561.79 L879.52 562.14 L878.38 562.47 L877.23 562.80 L876.09 563.12 L874.94 563.43 L873.79 563.74 L872.64 564.04 L871.49 564.33 L870.34 564.61 L869.19 564.88 L868.04 565.14 L866.88 565.40 L865.72 565.64 L864.57 565.88 L863.41 566.10 L862.25 566.32 L861.09 566.53 L859.93 566.72 L858.77 566.90 L857.61 567.08 L856.44 567.24 L855.28 567.39 L854.12 567.53 L852.95 567.65 L851.79 567.77 L850.62 567.87 L849.46 567.96 L848.29 568.04 L847.13 568.10 L845.96 568.15 L844.79 568.19 L843.63 568.21 L842.46 568.22 L841.29 568.21 L840.12 568.19 L838.96 568.16 L837.79 568.11 L836.62 568.04 L835.46 567.96 L834.29 567.86 L833.12 567.75 L831.96 567.62 L830.79 567.48 L829.63 567.32 L828.46 567.14 L827.29 566.94 L826.13 566.73 L824.97 566.50 L823.80 566.25 L822.64 565.98 L821.48 565.70 L820.31 565.39 L819.15 565.07 L817.99 564.73 L816.83 564.37 L815.67 563.99 L814.50 563.59Z" fill="url(#inh)"/>
<line x1="901" y1="542" x2="914.5" y2="567" stroke="#222" stroke-width="4.2"/>
<line x1="195.86" y1="512.04" x2="239.33" y2="523.68" stroke="#6f6f62" stroke-width="0.8"/>
<line x1="194.83" y1="513.83" x2="226.65" y2="545.65" stroke="#6f6f62" stroke-width="0.8"/>
<line x1="193.04" y1="514.86" x2="204.68" y2="558.33" stroke="#6f6f62" stroke-width="0.8"/>
<line x1="190.96" y1="514.86" x2="179.32" y2="558.33" stroke="#6f6f62" stroke-width="0.8"/>
<line x1="189.17" y1="513.83" x2="157.35" y2="545.65" stroke="#6f6f62" stroke-width="0.8"/>
<line x1="188.14" y1="512.04" x2="144.67" y2="523.68" stroke="#6f6f62" stroke-width="0.8"/>
<line x1="188.14" y1="509.96" x2="144.67" y2="498.32" stroke="#6f6f62" stroke-width="0.8"/>
<line x1="189.17" y1="508.17" x2="157.35" y2="476.35" stroke="#6f6f62" stroke-width="0.8"/>
<line x1="190.96" y1="507.14" x2="179.32" y2="463.67" stroke="#6f6f62" stroke-width="0.8"/>
<line x1="193.04" y1="507.14" x2="204.68" y2="463.67" stroke="#6f6f62" stroke-width="0.8"/>
<line x1="194.83" y1="508.17" x2="226.65" y2="476.35" stroke="#6f6f62" stroke-width="0.8"/>
<line x1="195.86" y1="509.96" x2="239.33" y2="498.32" stroke="#6f6f62" stroke-width="0.8"/>
<line x1="167.68" y1="462.23" x2="171.14" y2="453.68" stroke="#5f6060" stroke-width="0.8"/>
<circle cx="171.14" cy="453.68" r="3.6" fill="#3d5a96"/>
<circle cx="171.93" cy="446.84" r="3.6" fill="#3d5a96"/>
<circle cx="172.71" cy="439.99" r="3.6" fill="#3d5a96"/>
<circle cx="173.50" cy="433.15" r="3.6" fill="#3d5a96"/>
<circle cx="174.29" cy="426.31" r="3.6" fill="#3d5a96"/>
<circle cx="175.08" cy="419.47" r="3.6" fill="#3d5a96"/>
<circle cx="175.87" cy="412.63" r="3.6" fill="#3d5a96"/>
<circle cx="176.66" cy="405.78" r="3.6" fill="#3d5a96"/>
<circle cx="177.45" cy="398.94" r="3.6" fill="#3d5a96"/>
<line x1="196.94" y1="456.72" x2="204.37" y2="451.27" stroke="#5f6060" stroke-width="0.8"/>
<circle cx="204.37" cy="451.27" r="3.6" fill="#3d5a96"/>
<circle cx="208.88" cy="445.97" r="3.6" fill="#3d5a96"/>
<circle cx="213.39" cy="440.68" r="3.6" fill="#3d5a96"/>
<circle cx="217.91" cy="435.39" r="3.6" fill="#3d5a96"/>
<circle cx="222.42" cy="430.10" r="3.6" fill="#3d5a96"/>
<circle cx="226.93" cy="424.80" r="3.6" fill="#3d5a96"/>
<circle cx="231.44" cy="419.51" r="3.6" fill="#3d5a96"/>
<circle cx="235.96" cy="414.22" r="3.6" fill="#3d5a96"/>
<circle cx="240.47" cy="408.92" r="3.6" fill="#3d5a96"/>
<line x1="224.87" y1="467.53" x2="234.07" y2="466.83" stroke="#5f6060" stroke-width="0.8"/>
<circle cx="234.07" cy="466.83" r="3.6" fill="#3d5a96"/>
<circle cx="240.65" cy="464.65" r="3.6" fill="#3d5a96"/>
<circle cx="247.24" cy="462.48" r="3.6" fill="#3d5a96"/>
<circle cx="253.83" cy="460.31" r="3.6" fill="#3d5a96"/>
<circle cx="260.42" cy="458.14" r="3.6" fill="#3d5a96"/>
<circle cx="267.01" cy="455.97" r="3.6" fill="#3d5a96"/>
<circle cx="273.59" cy="453.80" r="3.6" fill="#3d5a96"/>
<circle cx="280.18" cy="451.63" r="3.6" fill="#3d5a96"/>
<circle cx="286.77" cy="449.46" r="3.6" fill="#3d5a96"/>
<line x1="243.05" y1="491.91" x2="251.19" y2="496.24" stroke="#5f6060" stroke-width="0.8"/>
<circle cx="251.19" cy="496.24" r="3.6" fill="#3d5a96"/>
<circle cx="257.91" cy="497.83" r="3.6" fill="#3d5a96"/>
<circle cx="264.64" cy="499.41" r="3.6" fill="#3d5a96"/>
<circle cx="271.36" cy="501.00" r="3.6" fill="#3d5a96"/>
<circle cx="278.08" cy="502.59" r="3.6" fill="#3d5a96"/>
<circle cx="284.81" cy="504.17" r="3.6" fill="#3d5a96"/>
<circle cx="291.53" cy="505.76" r="3.6" fill="#3d5a96"/>
<circle cx="298.26" cy="507.34" r="3.6" fill="#3d5a96"/>
<circle cx="304.98" cy="508.93" r="3.6" fill="#3d5a96"/>
<line x1="245.21" y1="522.80" x2="249.68" y2="530.86" stroke="#5f6060" stroke-width="0.8"/>
<circle cx="249.68" cy="530.86" r="3.6" fill="#3d5a96"/>
<circle cx="254.60" cy="535.61" r="3.6" fill="#3d5a96"/>
<circle cx="259.52" cy="540.36" r="3.6" fill="#3d5a96"/>
<circle cx="264.45" cy="545.11" r="3.6" fill="#3d5a96"/>
<circle cx="269.37" cy="549.86" r="3.6" fill="#3d5a96"/>
<circle cx="274.29" cy="554.61" r="3.6" fill="#3d5a96"/>
<circle cx="279.22" cy="559.36" r="3.6" fill="#3d5a96"/>
<circle cx="284.14" cy="564.11" r="3.6" fill="#3d5a96"/>
<circle cx="289.06" cy="568.86" r="3.6" fill="#3d5a96"/>
<line x1="232.50" y1="547.47" x2="232.42" y2="556.69" stroke="#5f6060" stroke-width="0.8"/>
<circle cx="232.42" cy="556.69" r="3.6" fill="#3d5a96"/>
<circle cx="234.09" cy="563.40" r="3.6" fill="#3d5a96"/>
<circle cx="235.75" cy="570.11" r="3.6" fill="#3d5a96"/>
<circle cx="237.42" cy="576.83" r="3.6" fill="#3d5a96"/>
<circle cx="239.08" cy="583.54" r="3.6" fill="#3d5a96"/>
<circle cx="240.75" cy="590.26" r="3.6" fill="#3d5a96"/>
<circle cx="242.41" cy="596.97" r="3.6" fill="#3d5a96"/>
<circle cx="244.08" cy="603.69" r="3.6" fill="#3d5a96"/>
<circle cx="245.75" cy="610.40" r="3.6" fill="#3d5a96"/>
<line x1="205.37" y1="563.83" x2="200.17" y2="571.45" stroke="#5f6060" stroke-width="0.8"/>
<circle cx="200.17" cy="571.45" r="3.6" fill="#3d5a96"/>
<circle cx="197.99" cy="577.97" r="3.6" fill="#3d5a96"/>
<circle cx="195.82" cy="584.49" r="3.6" fill="#3d5a96"/>
<circle cx="193.64" cy="591.01" r="3.6" fill="#3d5a96"/>
<circle cx="191.46" cy="597.53" r="3.6" fill="#3d5a96"/>
<circle cx="189.28" cy="604.06" r="3.6" fill="#3d5a96"/>
<circle cx="187.10" cy="610.58" r="3.6" fill="#3d5a96"/>
<circle cx="184.92" cy="617.10" r="3.6" fill="#3d5a96"/>
<circle cx="182.74" cy="623.62" r="3.6" fill="#3d5a96"/>
<line x1="171.67" y1="561.57" x2="162.99" y2="564.66" stroke="#5f6060" stroke-width="0.8"/>
<circle cx="162.99" cy="564.66" r="3.6" fill="#3d5a96"/>
<circle cx="157.16" cy="568.45" r="3.6" fill="#3d5a96"/>
<circle cx="151.34" cy="572.24" r="3.6" fill="#3d5a96"/>
<circle cx="145.51" cy="576.03" r="3.6" fill="#3d5a96"/>
<circle cx="139.69" cy="579.82" r="3.6" fill="#3d5a96"/>
<circle cx="133.86" cy="583.61" r="3.6" fill="#3d5a96"/>
<circle cx="128.04" cy="587.40" r="3.6" fill="#3d5a96"/>
<circle cx="122.21" cy="591.19" r="3.6" fill="#3d5a96"/>
<circle cx="116.39" cy="594.98" r="3.6" fill="#3d5a96"/>
<line x1="146.55" y1="541.08" x2="137.65" y2="538.69" stroke="#5f6060" stroke-width="0.8"/>
<circle cx="137.65" cy="538.69" r="3.6" fill="#3d5a96"/>
<circle cx="130.76" cy="538.74" r="3.6" fill="#3d5a96"/>
<circle cx="123.87" cy="538.80" r="3.6" fill="#3d5a96"/>
<circle cx="116.99" cy="538.85" r="3.6" fill="#3d5a96"/>
<circle cx="110.10" cy="538.90" r="3.6" fill="#3d5a96"/>
<circle cx="103.21" cy="538.95" r="3.6" fill="#3d5a96"/>
<circle cx="96.32" cy="539.00" r="3.6" fill="#3d5a96"/>
<circle cx="89.44" cy="539.05" r="3.6" fill="#3d5a96"/>
<circle cx="82.55" cy="539.10" r="3.6" fill="#3d5a96"/>
<line x1="137.52" y1="512.62" x2="131.21" y2="505.90" stroke="#5f6060" stroke-width="0.8"/>
<circle cx="131.21" cy="505.90" r="3.6" fill="#3d5a96"/>
<circle cx="125.25" cy="502.57" r="3.6" fill="#3d5a96"/>
<circle cx="119.30" cy="499.24" r="3.6" fill="#3d5a96"/>
<circle cx="113.34" cy="495.92" r="3.6" fill="#3d5a96"/>
<circle cx="107.38" cy="492.59" r="3.6" fill="#3d5a96"/>
<circle cx="101.42" cy="489.26" r="3.6" fill="#3d5a96"/>
<circle cx="95.46" cy="485.94" r="3.6" fill="#3d5a96"/>
<circle cx="89.50" cy="482.61" r="3.6" fill="#3d5a96"/>
<circle cx="83.54" cy="479.28" r="3.6" fill="#3d5a96"/>
<line x1="145.28" y1="482.93" x2="143.61" y2="473.87" stroke="#5f6060" stroke-width="0.8"/>
<circle cx="143.61" cy="473.87" r="3.6" fill="#3d5a96"/>
<circle cx="140.67" cy="467.61" r="3.6" fill="#3d5a96"/>
<circle cx="137.73" cy="461.35" r="3.6" fill="#3d5a96"/>
<circle cx="134.80" cy="455.09" r="3.6" fill="#3d5a96"/>
<circle cx="131.86" cy="448.84" r="3.6" fill="#3d5a96"/>
<circle cx="128.93" cy="442.58" r="3.6" fill="#3d5a96"/>
<circle cx="125.99" cy="436.32" r="3.6" fill="#3d5a96"/>
<circle cx="123.06" cy="430.06" r="3.6" fill="#3d5a96"/>
<circle cx="120.12" cy="423.81" r="3.6" fill="#3d5a96"/>
<line x1="170.07" y1="467.96" x2="197.25" y2="456.45" stroke="#b9445e" stroke-width="5.6" stroke-linecap="round"/>
<line x1="170.07" y1="467.96" x2="197.25" y2="456.45" stroke="#e0536f" stroke-width="4.3" stroke-linecap="round"/>
<line x1="196.82" y1="462.94" x2="225.91" y2="467.95" stroke="#b9445e" stroke-width="5.6" stroke-linecap="round"/>
<line x1="196.82" y1="462.94" x2="225.91" y2="467.95" stroke="#e0536f" stroke-width="4.3" stroke-linecap="round"/>
<line x1="222.04" y1="473.18" x2="243.80" y2="493.12" stroke="#b9445e" stroke-width="5.6" stroke-linecap="round"/>
<line x1="222.04" y1="473.18" x2="243.80" y2="493.12" stroke="#e0536f" stroke-width="4.3" stroke-linecap="round"/>
<line x1="237.72" y1="495.42" x2="245.25" y2="523.96" stroke="#b9445e" stroke-width="5.6" stroke-linecap="round"/>
<line x1="237.72" y1="495.42" x2="245.25" y2="523.96" stroke="#e0536f" stroke-width="4.3" stroke-linecap="round"/>
<line x1="238.88" y1="522.61" x2="229.78" y2="550.69" stroke="#b9445e" stroke-width="5.6" stroke-linecap="round"/>
<line x1="238.88" y1="522.61" x2="229.78" y2="550.69" stroke="#e0536f" stroke-width="4.3" stroke-linecap="round"/>
<line x1="225.16" y1="546.11" x2="202.33" y2="564.82" stroke="#b9445e" stroke-width="5.6" stroke-linecap="round"/>
<line x1="225.16" y1="546.11" x2="202.33" y2="564.82" stroke="#e0536f" stroke-width="4.3" stroke-linecap="round"/>
<line x1="200.91" y1="558.47" x2="171.59" y2="561.86" stroke="#b9445e" stroke-width="5.6" stroke-linecap="round"/>
<line x1="200.91" y1="558.47" x2="171.59" y2="561.86" stroke="#e0536f" stroke-width="4.3" stroke-linecap="round"/>
<line x1="173.84" y1="555.75" x2="147.34" y2="542.75" stroke="#b9445e" stroke-width="5.6" stroke-linecap="round"/>
<line x1="173.84" y1="555.75" x2="147.34" y2="542.75" stroke="#e0536f" stroke-width="4.3" stroke-linecap="round"/>
<line x1="152.52" y1="538.83" x2="137.26" y2="513.56" stroke="#b9445e" stroke-width="5.6" stroke-linecap="round"/>
<line x1="152.52" y1="538.83" x2="137.26" y2="513.56" stroke="#e0536f" stroke-width="4.3" stroke-linecap="round"/>
<line x1="143.74" y1="513.07" x2="144.56" y2="483.56" stroke="#b9445e" stroke-width="5.6" stroke-linecap="round"/>
<line x1="143.74" y1="513.07" x2="144.56" y2="483.56" stroke="#e0536f" stroke-width="4.3" stroke-linecap="round"/>
<line x1="150.29" y1="486.65" x2="166.93" y2="462.27" stroke="#b9445e" stroke-width="5.6" stroke-linecap="round"/>
<line x1="150.29" y1="486.65" x2="166.93" y2="462.27" stroke="#e0536f" stroke-width="4.3" stroke-linecap="round"/>
<ellipse cx="233.44" cy="513.17" rx="4.2" ry="3.7" transform="rotate(3.00 233.44 513.17)" fill="#1a7271"/>
<ellipse cx="232.44" cy="520.34" rx="4.2" ry="3.7" transform="rotate(13.00 232.44 520.34)" fill="#1a7271"/>
<ellipse cx="230.20" cy="527.22" rx="4.2" ry="3.7" transform="rotate(23.00 230.20 527.22)" fill="#1a7271"/>
<ellipse cx="226.80" cy="533.60" rx="4.2" ry="3.7" transform="rotate(33.00 226.80 533.60)" fill="#1a7271"/>
<ellipse cx="222.35" cy="539.30" rx="4.2" ry="3.7" transform="rotate(43.00 222.35 539.30)" fill="#1a7271"/>
<ellipse cx="216.98" cy="544.14" rx="4.2" ry="3.7" transform="rotate(53.00 216.98 544.14)" fill="#1a7271"/>
<ellipse cx="210.84" cy="547.98" rx="4.2" ry="3.7" transform="rotate(63.00 210.84 547.98)" fill="#1a7271"/>
<ellipse cx="204.13" cy="550.69" rx="4.2" ry="3.7" transform="rotate(73.00 204.13 550.69)" fill="#1a7271"/>
<ellipse cx="197.06" cy="552.19" rx="4.2" ry="3.7" transform="rotate(83.00 197.06 552.19)" fill="#1a7271"/>
<ellipse cx="189.83" cy="552.44" rx="4.2" ry="3.7" transform="rotate(93.00 189.83 552.44)" fill="#1a7271"/>
<ellipse cx="182.66" cy="551.44" rx="4.2" ry="3.7" transform="rotate(103.00 182.66 551.44)" fill="#1a7271"/>
<ellipse cx="175.78" cy="549.20" rx="4.2" ry="3.7" transform="rotate(113.00 175.78 549.20)" fill="#1a7271"/>
<ellipse cx="169.40" cy="545.80" rx="4.2" ry="3.7" transform="rotate(123.00 169.40 545.80)" fill="#1a7271"/>
<ellipse cx="163.70" cy="541.35" rx="4.2" ry="3.7" transform="rotate(133.00 163.70 541.35)" fill="#1a7271"/>
<ellipse cx="158.86" cy="535.98" rx="4.2" ry="3.7" transform="rotate(143.00 158.86 535.98)" fill="#1a7271"/>
<ellipse cx="155.02" cy="529.84" rx="4.2" ry="3.7" transform="rotate(153.00 155.02 529.84)" fill="#1a7271"/>
<ellipse cx="152.31" cy="523.13" rx="4.2" ry="3.7" transform="rotate(163.00 152.31 523.13)" fill="#1a7271"/>
<ellipse cx="150.81" cy="516.06" rx="4.2" ry="3.7" transform="rotate(173.00 150.81 516.06)" fill="#1a7271"/>
<ellipse cx="150.56" cy="508.83" rx="4.2" ry="3.7" transform="rotate(183.00 150.56 508.83)" fill="#1a7271"/>
<ellipse cx="151.56" cy="501.66" rx="4.2" ry="3.7" transform="rotate(193.00 151.56 501.66)" fill="#1a7271"/>
<ellipse cx="153.80" cy="494.78" rx="4.2" ry="3.7" transform="rotate(203.00 153.80 494.78)" fill="#1a7271"/>
<ellipse cx="157.20" cy="488.40" rx="4.2" ry="3.7" transform="rotate(213.00 157.20 488.40)" fill="#1a7271"/>
<ellipse cx="161.65" cy="482.70" rx="4.2" ry="3.7" transform="rotate(223.00 161.65 482.70)" fill="#1a7271"/>
<ellipse cx="167.02" cy="477.86" rx="4.2" ry="3.7" transform="rotate(233.00 167.02 477.86)" fill="#1a7271"/>
<ellipse cx="173.16" cy="474.02" rx="4.2" ry="3.7" transform="rotate(243.00 173.16 474.02)" fill="#1a7271"/>
<ellipse cx="179.87" cy="471.31" rx="4.2" ry="3.7" transform="rotate(253.00 179.87 471.31)" fill="#1a7271"/>
<ellipse cx="186.94" cy="469.81" rx="4.2" ry="3.7" transform="rotate(263.00 186.94 469.81)" fill="#1a7271"/>
<ellipse cx="194.17" cy="469.56" rx="4.2" ry="3.7" transform="rotate(273.00 194.17 469.56)" fill="#1a7271"/>
<ellipse cx="201.34" cy="470.56" rx="4.2" ry="3.7" transform="rotate(283.00 201.34 470.56)" fill="#1a7271"/>
<ellipse cx="208.22" cy="472.80" rx="4.2" ry="3.7" transform="rotate(293.00 208.22 472.80)" fill="#1a7271"/>
<ellipse cx="214.60" cy="476.20" rx="4.2" ry="3.7" transform="rotate(303.00 214.60 476.20)" fill="#1a7271"/>
<ellipse cx="220.30" cy="480.65" rx="4.2" ry="3.7" transform="rotate(313.00 220.30 480.65)" fill="#1a7271"/>
<ellipse cx="225.14" cy="486.02" rx="4.2" ry="3.7" transform="rotate(323.00 225.14 486.02)" fill="#1a7271"/>
<ellipse cx="228.98" cy="492.16" rx="4.2" ry="3.7" transform="rotate(333.00 228.98 492.16)" fill="#1a7271"/>
<ellipse cx="231.69" cy="498.87" rx="4.2" ry="3.7" transform="rotate(343.00 231.69 498.87)" fill="#1a7271"/>
<ellipse cx="233.19" cy="505.94" rx="4.2" ry="3.7" transform="rotate(353.00 233.19 505.94)" fill="#1a7271"/>
<circle cx="192" cy="511" r="31.3" fill="none" stroke="#1a6497" stroke-width="5.6" stroke-dasharray="5.084 0.7"/>
<line x1="198.50" y1="511.00" x2="211.50" y2="511.00" stroke="#6c4fa5" stroke-width="6.2" stroke-linecap="round"/>
<line x1="197.63" y1="514.25" x2="208.89" y2="520.75" stroke="#6c4fa5" stroke-width="6.2" stroke-linecap="round"/>
<line x1="195.25" y1="516.63" x2="201.75" y2="527.89" stroke="#6c4fa5" stroke-width="6.2" stroke-linecap="round"/>
<line x1="192.00" y1="517.50" x2="192.00" y2="530.50" stroke="#6c4fa5" stroke-width="6.2" stroke-linecap="round"/>
<line x1="188.75" y1="516.63" x2="182.25" y2="527.89" stroke="#6c4fa5" stroke-width="6.2" stroke-linecap="round"/>
<line x1="186.37" y1="514.25" x2="175.11" y2="520.75" stroke="#6c4fa5" stroke-width="6.2" stroke-linecap="round"/>
<line x1="185.50" y1="511.00" x2="172.50" y2="511.00" stroke="#6c4fa5" stroke-width="6.2" stroke-linecap="round"/>
<line x1="186.37" y1="507.75" x2="175.11" y2="501.25" stroke="#6c4fa5" stroke-width="6.2" stroke-linecap="round"/>
<line x1="188.75" y1="505.37" x2="182.25" y2="494.11" stroke="#6c4fa5" stroke-width="6.2" stroke-linecap="round"/>
<line x1="192.00" y1="504.50" x2="192.00" y2="491.50" stroke="#6c4fa5" stroke-width="6.2" stroke-linecap="round"/>
<line x1="195.25" y1="505.37" x2="201.75" y2="494.11" stroke="#6c4fa5" stroke-width="6.2" stroke-linecap="round"/>
<line x1="197.63" y1="507.75" x2="208.89" y2="501.25" stroke="#6c4fa5" stroke-width="6.2" stroke-linecap="round"/>
<circle cx="192" cy="511" r="2.3" fill="#f4f6fb"/>
<clipPath id="mclip"><path d="M937.10 523.30 C937.10 518.52 937.72 513.43 940.00 508.30 C942.28 503.17 946.22 497.08 950.80 492.50 C955.38 487.92 961.25 484.07 967.50 480.80 C973.75 477.53 980.67 474.77 988.30 472.90 C995.93 471.03 1006.35 470.28 1013.30 469.60 C1020.25 468.92 1023.05 468.25 1030.00 468.80 C1036.95 469.35 1045.73 470.62 1055.00 472.90 C1064.27 475.18 1076.85 478.42 1085.60 482.50 C1094.35 486.58 1102.10 492.15 1107.50 497.40 C1112.90 502.65 1116.03 509.07 1118.00 514.00 C1119.97 518.93 1119.63 522.45 1119.30 527.00 C1118.97 531.55 1118.10 537.58 1116.00 541.30 C1113.90 545.02 1110.48 547.07 1106.70 549.30 C1102.92 551.53 1097.75 553.70 1093.30 554.70 C1088.85 555.70 1084.43 555.75 1080.00 555.30 C1075.57 554.85 1072.25 553.55 1066.70 552.00 C1061.15 550.45 1052.27 547.55 1046.70 546.00 C1041.13 544.45 1037.75 543.25 1033.30 542.70 C1028.85 542.15 1025.55 542.15 1020.00 542.70 C1014.45 543.25 1006.67 544.67 1000.00 546.00 C993.33 547.33 986.67 549.70 980.00 550.70 C973.33 551.70 965.33 552.62 960.00 552.00 C954.67 551.38 951.33 549.50 948.00 547.00 C944.67 544.50 941.82 540.95 940.00 537.00 C938.18 533.05 937.10 528.08 937.10 523.30Z"/></clipPath>
<path d="M937.10 523.30 C937.10 518.52 937.72 513.43 940.00 508.30 C942.28 503.17 946.22 497.08 950.80 492.50 C955.38 487.92 961.25 484.07 967.50 480.80 C973.75 477.53 980.67 474.77 988.30 472.90 C995.93 471.03 1006.35 470.28 1013.30 469.60 C1020.25 468.92 1023.05 468.25 1030.00 468.80 C1036.95 469.35 1045.73 470.62 1055.00 472.90 C1064.27 475.18 1076.85 478.42 1085.60 482.50 C1094.35 486.58 1102.10 492.15 1107.50 497.40 C1112.90 502.65 1116.03 509.07 1118.00 514.00 C1119.97 518.93 1119.63 522.45 1119.30 527.00 C1118.97 531.55 1118.10 537.58 1116.00 541.30 C1113.90 545.02 1110.48 547.07 1106.70 549.30 C1102.92 551.53 1097.75 553.70 1093.30 554.70 C1088.85 555.70 1084.43 555.75 1080.00 555.30 C1075.57 554.85 1072.25 553.55 1066.70 552.00 C1061.15 550.45 1052.27 547.55 1046.70 546.00 C1041.13 544.45 1037.75 543.25 1033.30 542.70 C1028.85 542.15 1025.55 542.15 1020.00 542.70 C1014.45 543.25 1006.67 544.67 1000.00 546.00 C993.33 547.33 986.67 549.70 980.00 550.70 C973.33 551.70 965.33 552.62 960.00 552.00 C954.67 551.38 951.33 549.50 948.00 547.00 C944.67 544.50 941.82 540.95 940.00 537.00 C938.18 533.05 937.10 528.08 937.10 523.30Z" fill="#efdbd7"/>
<g clip-path="url(#mclip)">
<line x1="951.70" y1="505.00" x2="961.70" y2="518.30" stroke="#874b48" stroke-width="8.4" stroke-linecap="round"/>
<line x1="976.70" y1="486.00" x2="982.50" y2="508.30" stroke="#874b48" stroke-width="8.4" stroke-linecap="round"/>
<line x1="1005.00" y1="476.00" x2="1008.30" y2="504.20" stroke="#874b48" stroke-width="8.4" stroke-linecap="round"/>
<line x1="1022.50" y1="472.00" x2="1022.50" y2="487.50" stroke="#874b48" stroke-width="8.4" stroke-linecap="round"/>
<line x1="945.50" y1="539.50" x2="957.50" y2="529.20" stroke="#874b48" stroke-width="8.4" stroke-linecap="round"/>
<line x1="972.50" y1="550.00" x2="972.50" y2="525.00" stroke="#874b48" stroke-width="8.4" stroke-linecap="round"/>
<line x1="987.50" y1="550.00" x2="986.70" y2="536.70" stroke="#874b48" stroke-width="8.4" stroke-linecap="round"/>
<line x1="1006.00" y1="544.00" x2="996.70" y2="511.70" stroke="#874b48" stroke-width="8.4" stroke-linecap="round"/>
<line x1="1022.50" y1="545.00" x2="1022.50" y2="503.30" stroke="#874b48" stroke-width="8.4" stroke-linecap="round"/>
<line x1="1041.00" y1="473.00" x2="1041.00" y2="503.50" stroke="#874b48" stroke-width="8.4" stroke-linecap="round"/>
<line x1="1062.00" y1="475.00" x2="1063.70" y2="502.60" stroke="#874b48" stroke-width="8.4" stroke-linecap="round"/>
<line x1="1083.00" y1="482.00" x2="1076.00" y2="517.50" stroke="#874b48" stroke-width="8.4" stroke-linecap="round"/>
<line x1="1110.00" y1="504.00" x2="1097.00" y2="514.90" stroke="#874b48" stroke-width="8.4" stroke-linecap="round"/>
<line x1="1039.20" y1="544.00" x2="1039.20" y2="521.00" stroke="#874b48" stroke-width="8.4" stroke-linecap="round"/>
<line x1="1062.00" y1="550.00" x2="1061.10" y2="516.60" stroke="#874b48" stroke-width="8.4" stroke-linecap="round"/>
<line x1="1080.40" y1="554.00" x2="1080.40" y2="530.60" stroke="#874b48" stroke-width="8.4" stroke-linecap="round"/>
<line x1="1108.00" y1="541.00" x2="1097.00" y2="525.40" stroke="#874b48" stroke-width="8.4" stroke-linecap="round"/>
</g>
<g clip-path="url(#mclip)"><path d="M937.10 523.30 C937.10 518.52 937.72 513.43 940.00 508.30 C942.28 503.17 946.22 497.08 950.80 492.50 C955.38 487.92 961.25 484.07 967.50 480.80 C973.75 477.53 980.67 474.77 988.30 472.90 C995.93 471.03 1006.35 470.28 1013.30 469.60 C1020.25 468.92 1023.05 468.25 1030.00 468.80 C1036.95 469.35 1045.73 470.62 1055.00 472.90 C1064.27 475.18 1076.85 478.42 1085.60 482.50 C1094.35 486.58 1102.10 492.15 1107.50 497.40 C1112.90 502.65 1116.03 509.07 1118.00 514.00 C1119.97 518.93 1119.63 522.45 1119.30 527.00 C1118.97 531.55 1118.10 537.58 1116.00 541.30 C1113.90 545.02 1110.48 547.07 1106.70 549.30 C1102.92 551.53 1097.75 553.70 1093.30 554.70 C1088.85 555.70 1084.43 555.75 1080.00 555.30 C1075.57 554.85 1072.25 553.55 1066.70 552.00 C1061.15 550.45 1052.27 547.55 1046.70 546.00 C1041.13 544.45 1037.75 543.25 1033.30 542.70 C1028.85 542.15 1025.55 542.15 1020.00 542.70 C1014.45 543.25 1006.67 544.67 1000.00 546.00 C993.33 547.33 986.67 549.70 980.00 550.70 C973.33 551.70 965.33 552.62 960.00 552.00 C954.67 551.38 951.33 549.50 948.00 547.00 C944.67 544.50 941.82 540.95 940.00 537.00 C938.18 533.05 937.10 528.08 937.10 523.30Z" fill="none" stroke="#874b48" stroke-width="16.8"/><path d="M937.10 523.30 C937.10 518.52 937.72 513.43 940.00 508.30 C942.28 503.17 946.22 497.08 950.80 492.50 C955.38 487.92 961.25 484.07 967.50 480.80 C973.75 477.53 980.67 474.77 988.30 472.90 C995.93 471.03 1006.35 470.28 1013.30 469.60 C1020.25 468.92 1023.05 468.25 1030.00 468.80 C1036.95 469.35 1045.73 470.62 1055.00 472.90 C1064.27 475.18 1076.85 478.42 1085.60 482.50 C1094.35 486.58 1102.10 492.15 1107.50 497.40 C1112.90 502.65 1116.03 509.07 1118.00 514.00 C1119.97 518.93 1119.63 522.45 1119.30 527.00 C1118.97 531.55 1118.10 537.58 1116.00 541.30 C1113.90 545.02 1110.48 547.07 1106.70 549.30 C1102.92 551.53 1097.75 553.70 1093.30 554.70 C1088.85 555.70 1084.43 555.75 1080.00 555.30 C1075.57 554.85 1072.25 553.55 1066.70 552.00 C1061.15 550.45 1052.27 547.55 1046.70 546.00 C1041.13 544.45 1037.75 543.25 1033.30 542.70 C1028.85 542.15 1025.55 542.15 1020.00 542.70 C1014.45 543.25 1006.67 544.67 1000.00 546.00 C993.33 547.33 986.67 549.70 980.00 550.70 C973.33 551.70 965.33 552.62 960.00 552.00 C954.67 551.38 951.33 549.50 948.00 547.00 C944.67 544.50 941.82 540.95 940.00 537.00 C938.18 533.05 937.10 528.08 937.10 523.30Z" fill="none" stroke="#cc9289" stroke-width="15.2"/></g>
<g clip-path="url(#mclip)">
<line x1="951.70" y1="505.00" x2="961.70" y2="518.30" stroke="#cc9289" stroke-width="6.8" stroke-linecap="round"/>
<line x1="976.70" y1="486.00" x2="982.50" y2="508.30" stroke="#cc9289" stroke-width="6.8" stroke-linecap="round"/>
<line x1="1005.00" y1="476.00" x2="1008.30" y2="504.20" stroke="#cc9289" stroke-width="6.8" stroke-linecap="round"/>
<line x1="1022.50" y1="472.00" x2="1022.50" y2="487.50" stroke="#cc9289" stroke-width="6.8" stroke-linecap="round"/>
<line x1="945.50" y1="539.50" x2="957.50" y2="529.20" stroke="#cc9289" stroke-width="6.8" stroke-linecap="round"/>
<line x1="972.50" y1="550.00" x2="972.50" y2="525.00" stroke="#cc9289" stroke-width="6.8" stroke-linecap="round"/>
<line x1="987.50" y1="550.00" x2="986.70" y2="536.70" stroke="#cc9289" stroke-width="6.8" stroke-linecap="round"/>
<line x1="1006.00" y1="544.00" x2="996.70" y2="511.70" stroke="#cc9289" stroke-width="6.8" stroke-linecap="round"/>
<line x1="1022.50" y1="545.00" x2="1022.50" y2="503.30" stroke="#cc9289" stroke-width="6.8" stroke-linecap="round"/>
<line x1="1041.00" y1="473.00" x2="1041.00" y2="503.50" stroke="#cc9289" stroke-width="6.8" stroke-linecap="round"/>
<line x1="1062.00" y1="475.00" x2="1063.70" y2="502.60" stroke="#cc9289" stroke-width="6.8" stroke-linecap="round"/>
<line x1="1083.00" y1="482.00" x2="1076.00" y2="517.50" stroke="#cc9289" stroke-width="6.8" stroke-linecap="round"/>
<line x1="1110.00" y1="504.00" x2="1097.00" y2="514.90" stroke="#cc9289" stroke-width="6.8" stroke-linecap="round"/>
<line x1="1039.20" y1="544.00" x2="1039.20" y2="521.00" stroke="#cc9289" stroke-width="6.8" stroke-linecap="round"/>
<line x1="1062.00" y1="550.00" x2="1061.10" y2="516.60" stroke="#cc9289" stroke-width="6.8" stroke-linecap="round"/>
<line x1="1080.40" y1="554.00" x2="1080.40" y2="530.60" stroke="#cc9289" stroke-width="6.8" stroke-linecap="round"/>
<line x1="1108.00" y1="541.00" x2="1097.00" y2="525.40" stroke="#cc9289" stroke-width="6.8" stroke-linecap="round"/>
</g>
<path d="M937.10 523.30 C937.10 518.52 937.72 513.43 940.00 508.30 C942.28 503.17 946.22 497.08 950.80 492.50 C955.38 487.92 961.25 484.07 967.50 480.80 C973.75 477.53 980.67 474.77 988.30 472.90 C995.93 471.03 1006.35 470.28 1013.30 469.60 C1020.25 468.92 1023.05 468.25 1030.00 468.80 C1036.95 469.35 1045.73 470.62 1055.00 472.90 C1064.27 475.18 1076.85 478.42 1085.60 482.50 C1094.35 486.58 1102.10 492.15 1107.50 497.40 C1112.90 502.65 1116.03 509.07 1118.00 514.00 C1119.97 518.93 1119.63 522.45 1119.30 527.00 C1118.97 531.55 1118.10 537.58 1116.00 541.30 C1113.90 545.02 1110.48 547.07 1106.70 549.30 C1102.92 551.53 1097.75 553.70 1093.30 554.70 C1088.85 555.70 1084.43 555.75 1080.00 555.30 C1075.57 554.85 1072.25 553.55 1066.70 552.00 C1061.15 550.45 1052.27 547.55 1046.70 546.00 C1041.13 544.45 1037.75 543.25 1033.30 542.70 C1028.85 542.15 1025.55 542.15 1020.00 542.70 C1014.45 543.25 1006.67 544.67 1000.00 546.00 C993.33 547.33 986.67 549.70 980.00 550.70 C973.33 551.70 965.33 552.62 960.00 552.00 C954.67 551.38 951.33 549.50 948.00 547.00 C944.67 544.50 941.82 540.95 940.00 537.00 C938.18 533.05 937.10 528.08 937.10 523.30Z" fill="none" stroke="#6b3536" stroke-width="1.5"/>
<text transform="translate(569.16 32.00) scale(0.9362 1)" font-size="44.93" fill="#000">TLRs</text>
<text transform="translate(481.14 81.00) scale(0.9693 1)" font-size="44.93" fill="#000">(except TLR3)</text>
<text transform="translate(580.66 284.75) scale(0.8905 1)" font-size="46.96" fill="#000">TLR</text>
<text transform="translate(587.11 355.60) scale(0.9893 1)" font-size="39.71" fill="#000">Mal</text>
<text transform="translate(559.81 424.40) scale(0.9427 1)" font-size="39.71" fill="#000">MyD88</text>
<text transform="translate(567.18 500.40) scale(0.9085 1)" font-size="39.42" fill="#000">IRAK4</text>
<text transform="translate(476.93 576.75) scale(0.8554 1)" font-size="39.86" fill="#000">IRAK1</text>
<text transform="translate(657.24 576.75) scale(0.9078 1)" font-size="39.86" fill="#000">IRAK2</text>
<text transform="translate(562.89 654.40) scale(0.8968 1)" font-size="39.71" fill="#000">TRAF6</text>
<text transform="translate(128.66 668.80) scale(0.9561 1)" font-size="43.62" fill="#000">NLRP3</text>
<text transform="translate(47.10 718.10) scale(1.0455 1)" font-size="43.62" fill="#000">Inflammasome</text>
<text transform="translate(940.30 631.00) scale(1.0110 1)" font-size="43.48" fill="#000">Oxidative</text>
<text transform="translate(913.97 681.70) scale(1.0599 1)" font-size="43.48" fill="#000">metabolism</text>
<text transform="translate(220.41 933.25) scale(0.9079 1)" font-size="39.86" fill="#000">NF-kB</text>
<text transform="translate(463.60 933.25) scale(0.8556 1)" font-size="39.86" fill="#000">AP-1</text>
<text transform="translate(696.47 933.25) scale(0.8998 1)" font-size="39.86" fill="#000">IRF5</text>
<text transform="translate(928.32 933.30) scale(0.8875 1)" font-size="39.86" fill="#000">IRF7</text>
<text transform="translate(535.41 1162.70) scale(0.9425 1)" font-size="40.14" fill="#fff">Cytokines</text>
<text transform="translate(514.83 1205.00) scale(0.9335 1)" font-size="40.14" fill="#fff">Chemokines</text>
</svg>
</body></html>
